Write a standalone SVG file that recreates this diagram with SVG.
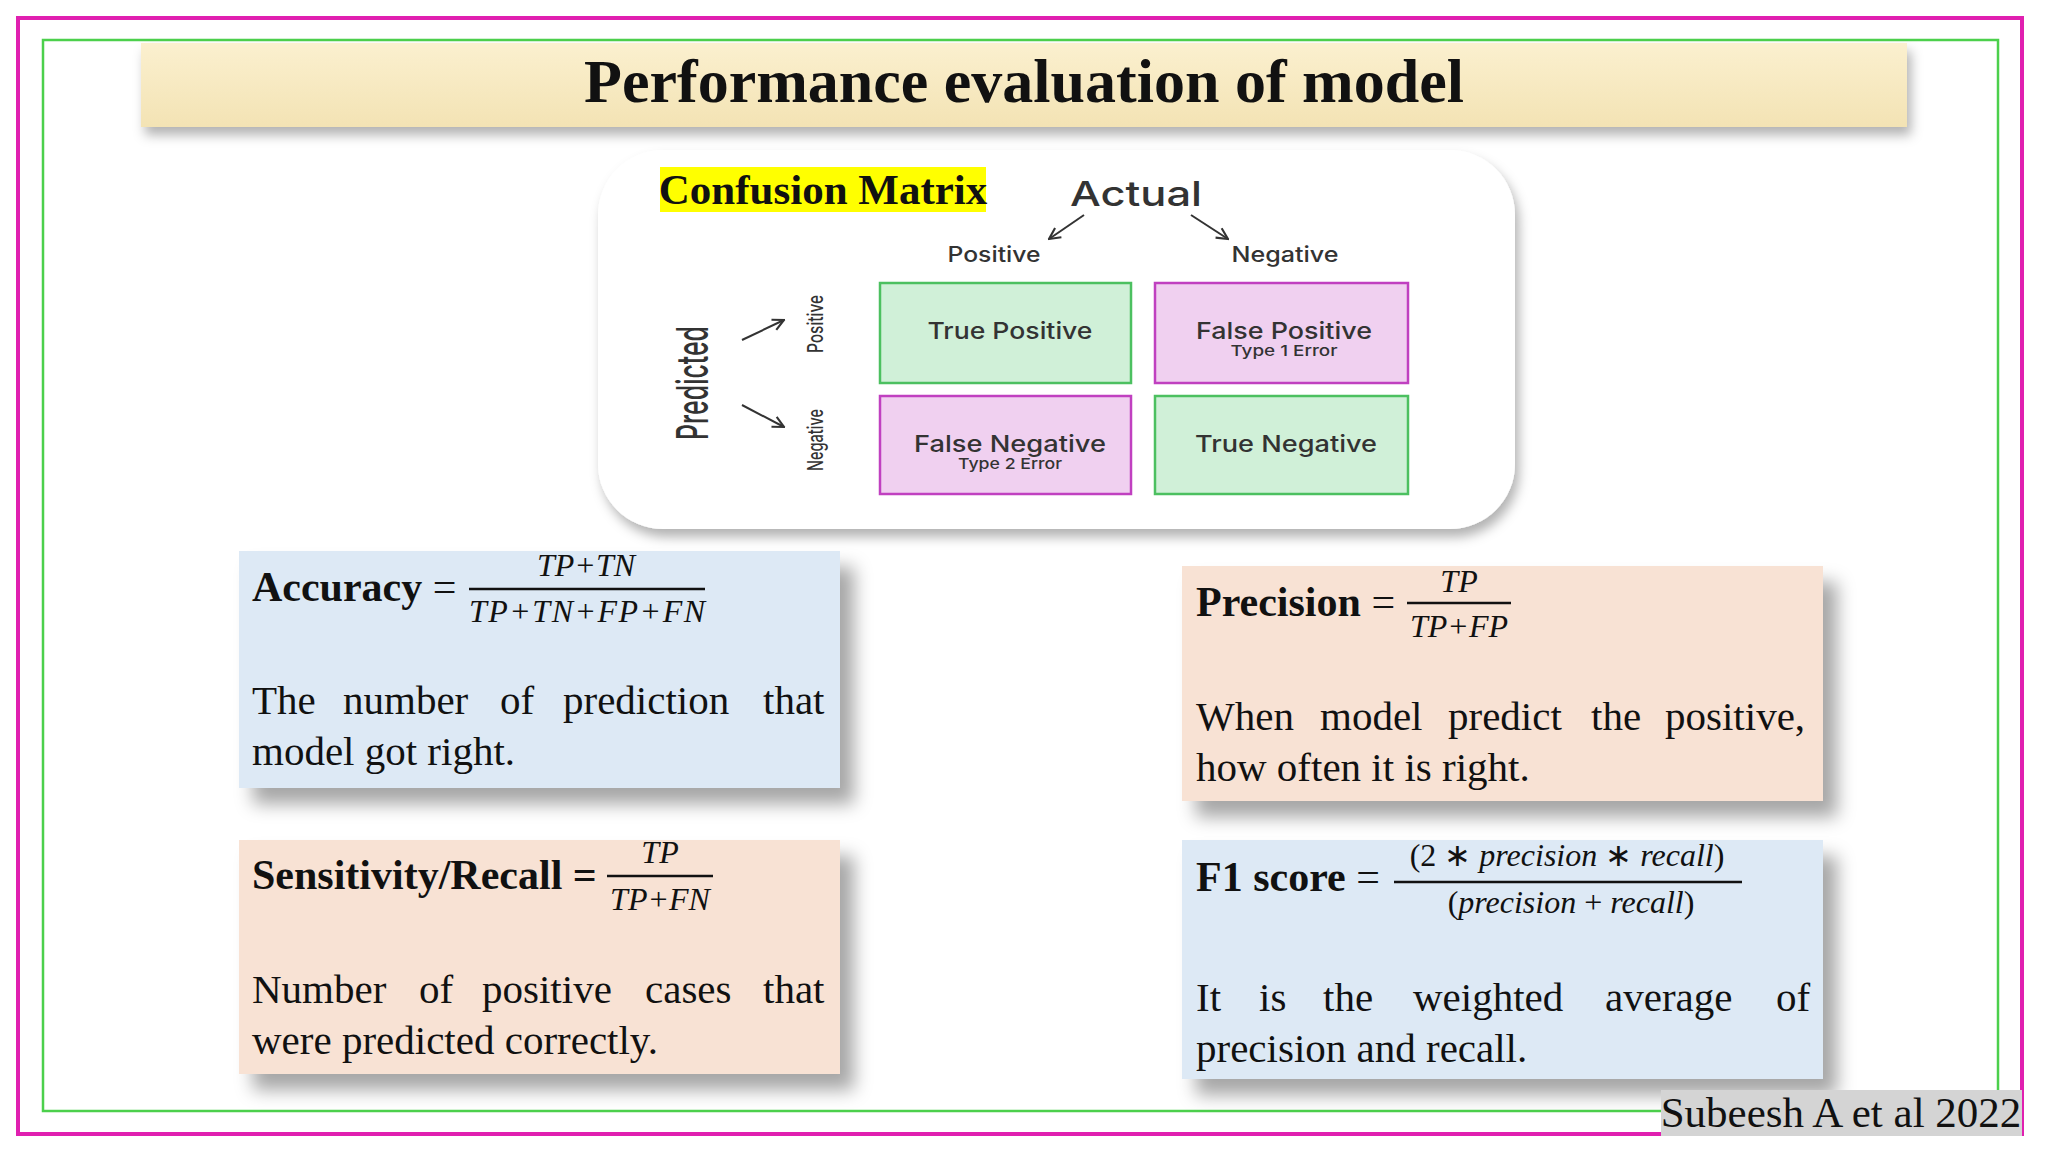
<svg xmlns="http://www.w3.org/2000/svg" width="2048" height="1152" viewBox="0 0 2048 1152">
<defs>
<filter id="sh" x="-10%" y="-10%" width="130%" height="140%"><feDropShadow dx="14" dy="16" stdDeviation="9" flood-color="#000" flood-opacity="0.35"/></filter>
<filter id="sh2" x="-10%" y="-10%" width="130%" height="140%"><feDropShadow dx="4" dy="8" stdDeviation="6" flood-color="#000" flood-opacity="0.3"/></filter>
<linearGradient id="ban" x1="0" y1="0" x2="0" y2="1"><stop offset="0" stop-color="#fbf0cf"/><stop offset="1" stop-color="#f3e3b4"/></linearGradient>
<marker id="ah" viewBox="0 0 10 10" refX="9" refY="5" markerWidth="7" markerHeight="7" orient="auto"><path d="M1,1 L9,5 L1,9" fill="none" stroke="#333" stroke-width="1.5"/></marker>
<style>
.t{font-family:"Liberation Serif",serif;fill:#111}
.s{font-family:"Inter","Liberation Sans",sans-serif;fill:#333;font-weight:500}
.m{font-family:"Liberation Serif",serif;font-style:italic;font-size:32px;fill:#111}
.b{font-weight:bold}
.body{font-size:41px}
.cell{stroke-width:2.5}
</style>
</defs>
<rect width="2048" height="1152" fill="#fff"/>
<rect x="18" y="18" width="2004" height="1116" fill="none" stroke="#e020b0" stroke-width="4"/>
<rect x="43" y="40" width="1955" height="1071" fill="none" stroke="#4cd04c" stroke-width="2.5"/>
<g id="title">
<rect x="141" y="43" width="1766" height="84" fill="url(#ban)" filter="url(#sh2)"/>
<text x="1024" y="102" text-anchor="middle" class="t b" font-size="62">Performance evaluation of model</text>
</g>
<g id="matrix">
<rect x="598" y="150" width="917" height="379" rx="65" fill="#fff" filter="url(#sh2)"/>
<rect x="660" y="167" width="326" height="45" fill="#ffff00"/>
<text x="823" y="204" text-anchor="middle" class="t b" font-size="43">Confusion Matrix</text>
<text x="1136" y="206" text-anchor="middle" class="s" font-size="34" textLength="132" lengthAdjust="spacingAndGlyphs">Actual</text>
<text x="994" y="262" text-anchor="middle" class="s" font-size="21" textLength="93" lengthAdjust="spacingAndGlyphs">Positive</text>
<text x="1285" y="262" text-anchor="middle" class="s" font-size="21" textLength="107" lengthAdjust="spacingAndGlyphs">Negative</text>
<text transform="translate(708,383) rotate(-90)" text-anchor="middle" class="s" font-size="44" textLength="114" lengthAdjust="spacingAndGlyphs">Predicted</text>
<text transform="translate(823,324) rotate(-90)" text-anchor="middle" class="s" font-size="21" textLength="58" lengthAdjust="spacingAndGlyphs">Positive</text>
<text transform="translate(823,440) rotate(-90)" text-anchor="middle" class="s" font-size="21" textLength="62" lengthAdjust="spacingAndGlyphs">Negative</text>
<rect x="880" y="283" width="251" height="100" fill="#d0f0d8" stroke="#4cc060" class="cell"/>
<rect x="1155" y="283" width="253" height="100" fill="#f0d0f0" stroke="#c040c0" class="cell"/>
<rect x="880" y="396" width="251" height="98" fill="#f0d0f0" stroke="#c040c0" class="cell"/>
<rect x="1155" y="396" width="253" height="98" fill="#d0f0d8" stroke="#4cc060" class="cell"/>
<text x="1010" y="339" text-anchor="middle" class="s" font-size="23" textLength="165" lengthAdjust="spacingAndGlyphs">True Positive</text>
<text x="1284" y="339" text-anchor="middle" class="s" font-size="23" textLength="176" lengthAdjust="spacingAndGlyphs">False Positive</text>
<text x="1284" y="356" text-anchor="middle" class="s" font-size="15" textLength="107" lengthAdjust="spacingAndGlyphs">Type 1 Error</text>
<text x="1010" y="452" text-anchor="middle" class="s" font-size="23" textLength="192" lengthAdjust="spacingAndGlyphs">False Negative</text>
<text x="1010" y="469" text-anchor="middle" class="s" font-size="15" textLength="104" lengthAdjust="spacingAndGlyphs">Type 2 Error</text>
<text x="1286" y="452" text-anchor="middle" class="s" font-size="23" textLength="182" lengthAdjust="spacingAndGlyphs">True Negative</text>
</g>
<g id="connectors" stroke="#333" stroke-width="2" fill="none" marker-end="url(#ah)">
<line x1="1084" y1="215" x2="1049" y2="239"/>
<line x1="1191" y1="215" x2="1228" y2="239"/>
<line x1="742" y1="340" x2="784" y2="320"/>
<line x1="742" y1="405" x2="784" y2="427"/>
</g>
<g id="accuracy">
<rect x="239" y="551" width="601" height="237" fill="#dde9f5" filter="url(#sh)"/>
<text x="252" y="601" class="t b" font-size="42">Accuracy <tspan font-weight="normal">=</tspan></text>
<text x="586" y="576" text-anchor="middle" class="m">TP+TN</text>
<line x1="469" y1="589" x2="705" y2="589" stroke="#111" stroke-width="2.5"/>
<text x="587" y="622" text-anchor="middle" class="m" textLength="236" lengthAdjust="spacing">TP+TN+FP+FN</text>
<text y="714" class="t body"><tspan x="252">The</tspan><tspan x="343">number</tspan><tspan x="500">of</tspan><tspan x="563">prediction</tspan><tspan x="763">that</tspan></text>
<text x="252" y="765" class="t body">model got right.</text>
</g>
<g id="precision">
<rect x="1182" y="566" width="641" height="235" fill="#f8e2d4" filter="url(#sh)"/>
<text x="1196" y="616" class="t b" font-size="42">Precision <tspan font-weight="normal">=</tspan></text>
<text x="1459" y="592" text-anchor="middle" class="m">TP</text>
<line x1="1407" y1="603" x2="1511" y2="603" stroke="#111" stroke-width="2.5"/>
<text x="1459" y="637" text-anchor="middle" class="m">TP+FP</text>
<text y="730" class="t body"><tspan x="1196">When</tspan><tspan x="1320">model</tspan><tspan x="1448">predict</tspan><tspan x="1591">the</tspan><tspan x="1665">positive,</tspan></text>
<text x="1196" y="781" class="t body">how often it is right.</text>
</g>
<g id="recall">
<rect x="239" y="840" width="601" height="234" fill="#f8e2d4" filter="url(#sh)"/>
<text x="252" y="889" class="t b" font-size="42">Sensitivity/Recall =</text>
<text x="660" y="863" text-anchor="middle" class="m">TP</text>
<line x1="607" y1="876" x2="713" y2="876" stroke="#111" stroke-width="2.5"/>
<text x="660" y="910" text-anchor="middle" class="m">TP+FN</text>
<text y="1003" class="t body"><tspan x="252">Number</tspan><tspan x="419">of</tspan><tspan x="482">positive</tspan><tspan x="645">cases</tspan><tspan x="763">that</tspan></text>
<text x="252" y="1054" class="t body">were predicted correctly.</text>
</g>
<g id="f1">
<rect x="1182" y="840" width="641" height="239" fill="#dde9f5" filter="url(#sh)"/>
<text x="1196" y="891" class="t b" font-size="42">F1 score <tspan font-weight="normal">=</tspan></text>
<text x="1567" y="866" text-anchor="middle" class="m"><tspan font-style="normal">(2 ∗ </tspan>precision<tspan font-style="normal"> ∗ </tspan>recall<tspan font-style="normal">)</tspan></text>
<line x1="1394" y1="882" x2="1742" y2="882" stroke="#111" stroke-width="2.5"/>
<text x="1571" y="913" text-anchor="middle" class="m"><tspan font-style="normal">(</tspan>precision<tspan font-style="normal"> + </tspan>recall<tspan font-style="normal">)</tspan></text>
<text y="1011" class="t body"><tspan x="1196">It</tspan><tspan x="1259">is</tspan><tspan x="1323">the</tspan><tspan x="1413">weighted</tspan><tspan x="1605">average</tspan><tspan x="1776">of</tspan></text>
<text x="1196" y="1062" class="t body">precision and recall.</text>
</g>
<g id="credit">
<rect x="1661" y="1090" width="361" height="46" fill="#d4d4d4"/>
<text x="1841" y="1127" text-anchor="middle" class="t" font-size="43">Subeesh A et al 2022</text>
</g>
</svg>
